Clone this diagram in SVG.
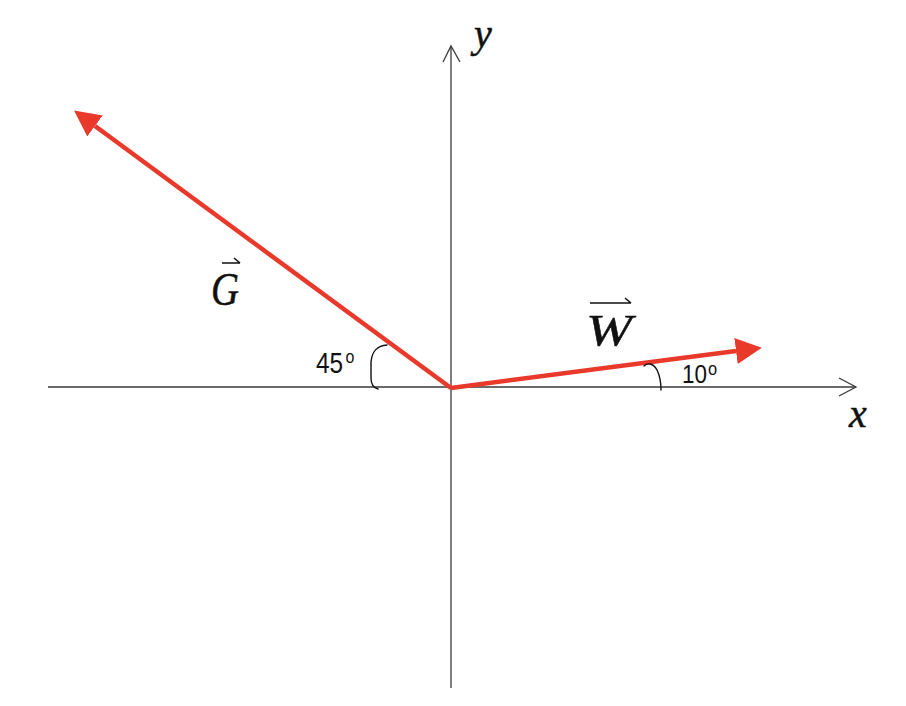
<svg xmlns="http://www.w3.org/2000/svg" width="906" height="706" viewBox="0 0 906 706">
<defs>
<style>
.axis{stroke:#3a3a3a;stroke-width:1.3;fill:none}
.vec{stroke:#e8392b;stroke-width:4.5;fill:none}
.mark{stroke:#111;stroke-width:1.4;fill:none;stroke-linecap:round}
.it{font-family:"Liberation Serif","Times New Roman",serif;font-style:italic;fill:#111;stroke:#111;stroke-width:0.5}
.num{font-family:"Liberation Sans",Arial,sans-serif;fill:#111}
.ov{stroke:#111;stroke-width:1.6;fill:none}
</style>
<marker id="head" markerUnits="userSpaceOnUse" markerWidth="26" markerHeight="26" viewBox="0 0 24 24" refX="0" refY="12" orient="auto">
<path d="M0,0 L24,12 L0,24 z" fill="#e8392b"/>
</marker>
</defs>
<rect width="906" height="706" fill="#fff"/>
<g id="axes">
<line class="axis" x1="48" y1="387" x2="856" y2="387"/>
<polyline class="axis" points="839,378 856,387 839,396"/>
<line class="axis" x1="451" y1="688" x2="451" y2="46"/>
<polyline class="axis" points="443,62 451,46 460,62"/>
<text class="it" x="474" y="47" font-size="40">y</text>
<text class="it" x="849" y="427" font-size="40">x</text>
</g>
<g id="connectors">
<line class="vec" x1="451" y1="388" x2="95" y2="126" marker-end="url(#head)"/>
<line class="vec" x1="451" y1="388" x2="736" y2="351" marker-end="url(#head)"/>
</g>
<g id="labelG">
<text class="it" x="211" y="305" font-size="47" textLength="28" lengthAdjust="spacingAndGlyphs">G</text>
<path class="ov" d="M222,263 L240,263 M234,258 L240,263"/>
</g>
<g id="labelW">
<text class="it" x="586" y="345" font-size="45" textLength="46" lengthAdjust="spacingAndGlyphs">W</text>
<path class="ov" d="M590,303 L631,303 M625,298 L631,303"/>
</g>
<g id="angle45">
<path class="mark" d="M387,345 C376,346 372,352 371,362 L371,378 C371,384 374,388 378,389"/>
<text class="num" transform="translate(316,373) scale(0.84,1)" font-size="29">45<tspan x="35" dy="-10" font-size="19">o</tspan></text>
</g>
<g id="angle10">
<path class="mark" d="M644,366 C648,362 654,364 657,370 C660,376 661,382 661,390"/>
<text class="num" transform="translate(682,383) scale(0.865,1)" font-size="26">10<tspan x="30" dy="-8" font-size="19">o</tspan></text>
</g>
</svg>
